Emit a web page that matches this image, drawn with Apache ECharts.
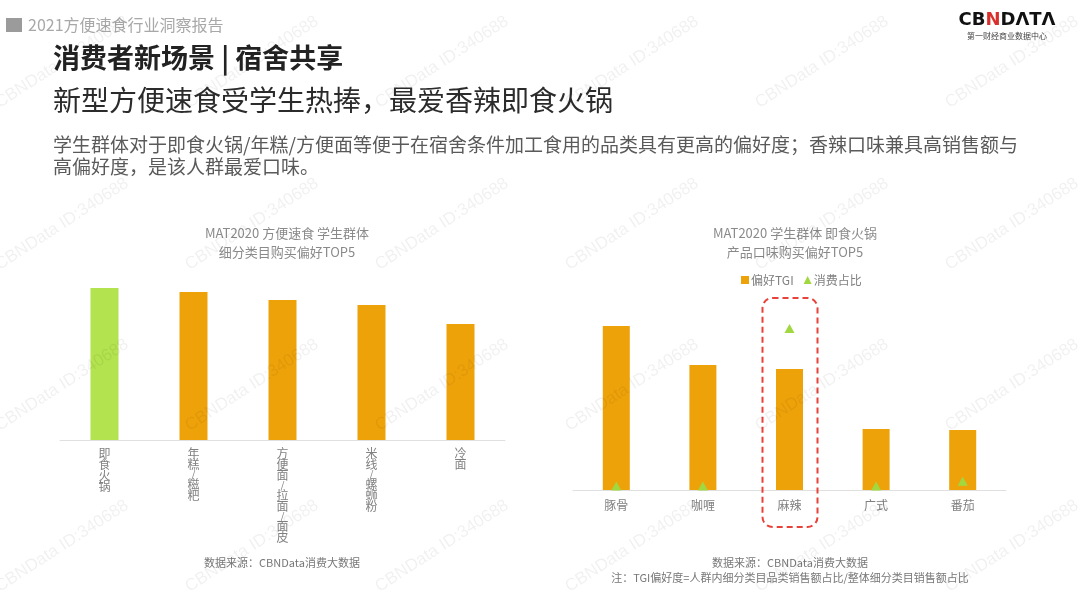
<!DOCTYPE html>
<html>
<head>
<meta charset="utf-8">
<script src="https://cdn.jsdelivr.net/npm/echarts@6/dist/echarts.min.js"></script>
<style>
	html, body { margin: 0; padding: 0; background: #fff; }
	#main { width: 1080px; height: 592px; }
</style>
</head>
<body>
<div id="main"></div>
<script>
// 左图：细分类目购买偏好TOP5
const catLeft = ['即食火锅', '年糕/糍粑', '方便面/拉面/面皮', '米线/螺蛳粉', '冷面']
const prefLeft = [152, 148, 140, 135, 116]

// 右图：即食火锅 产品口味购买偏好TOP5
const catRight = ['豚骨', '咖喱', '麻辣', '广式', '番茄']
const tgiRight = [164, 125, 121, 61, 60]
const shareRight = [1.3, 1.3, 51, 1.3, 2.8]

const ORANGE = '#EEA20A'
const GREEN = '#B3E34E'
const TRI = '#A2D83F'
const FONT = '"Noto Sans CJK SC", "Noto Sans", sans-serif'

const chart = echarts.init(document.getElementById('main'))

// 水印
const marks = []
const wmX = [62, 252, 442, 632, 822, 1012]
const wmY = [62, 224, 385, 546]
wmY.forEach(y => {
	wmX.forEach(x => {
		marks.push({
			type: 'text',
			x: x,
			y: y,
			rotation: Math.PI * 33 / 180,
			z: 100,
			silent: true,
			style: {
				text: 'CBNData ID:340688',
				fontSize: 17,
				fontFamily: '"Liberation Sans", sans-serif',
				fill: 'rgba(0,0,0,0.06)',
				align: 'center',
				verticalAlign: 'middle'
			}
		})
	})
})

// 竖排标签，斜杠行更矮
function vertical(v) {
	return v.split('').map(c => (c === '/' ? '{s|/}' : c)).join('\n')
}

chart.setOption({
	backgroundColor: '#fff',
	textStyle: { fontFamily: FONT },
	title: [
		{
			text: 'MAT2020 方便速食 学生群体\n细分类目购买偏好TOP5',
			left: 282,
			top: 219,
			textAlign: 'center',
			textStyle: { fontSize: 13, fontWeight: 'normal', color: '#8a8a8a', lineHeight: 19, fontFamily: FONT }
		},
		{
			text: 'MAT2020 学生群体 即食火锅\n产品口味购买偏好TOP5',
			left: 790,
			top: 219,
			textAlign: 'center',
			textStyle: { fontSize: 13, fontWeight: 'normal', color: '#8a8a8a', lineHeight: 19, fontFamily: FONT }
		}
	],
	legend: {
		left: 736,
		top: 269,
		itemWidth: 8,
		itemHeight: 8,
		itemGap: 10,
		textStyle: { fontSize: 12, color: '#808080', padding: [0, 0, 0, -3] },
		data: [
			{ name: '偏好TGI', icon: 'rect' },
			{ name: '消费占比', icon: 'triangle' }
		]
	},
	grid: [
		{ left: 60, right: 575, top: 250, bottom: 152 },
		{ left: 573, right: 74, top: 300, bottom: 102 }
	],
	xAxis: [
		{
			type: 'category',
			gridIndex: 0,
			data: catLeft,
			axisLine: { lineStyle: { color: '#e0e0e0', width: 1 } },
			axisTick: { show: false },
			axisLabel: {
				interval: 0,
				margin: 8,
				fontSize: 12,
				lineHeight: 11,
				color: '#808080',
				verticalAlign: 'top',
				formatter: vertical,
				rich: { s: { fontSize: 10, lineHeight: 9, color: '#808080' } }
			}
		},
		{
			type: 'category',
			gridIndex: 1,
			data: catRight,
			axisLine: { lineStyle: { color: '#e0e0e0', width: 1 } },
			axisTick: { show: false },
			axisLabel: { interval: 0, margin: 9, fontSize: 12, color: '#808080' }
		}
	],
	yAxis: [
		{ type: 'value', gridIndex: 0, min: 0, max: 190, show: false },
		{ type: 'value', gridIndex: 1, min: 0, max: 190, show: false },
		{ type: 'value', gridIndex: 1, min: 0, max: 60, show: false }
	],
	series: [
		{
			name: '偏好',
			type: 'bar',
			xAxisIndex: 0,
			yAxisIndex: 0,
			barWidth: 28,
			itemStyle: {
				color: p => (p.dataIndex === 0 ? GREEN : ORANGE)
			},
			data: prefLeft
		},
		{
			name: '偏好TGI',
			type: 'bar',
			xAxisIndex: 1,
			yAxisIndex: 1,
			barWidth: 27,
			itemStyle: { color: ORANGE },
			data: tgiRight
		},
		{
			name: '消费占比',
			type: 'scatter',
			xAxisIndex: 1,
			yAxisIndex: 2,
			symbol: 'triangle',
			symbolSize: [10, 9],
			itemStyle: { color: TRI, opacity: 1 },
			z: 5,
			data: shareRight
		}
	],
	graphic: [
		{ type: 'rect', shape: { x: 6, y: 18, width: 16, height: 14 }, style: { fill: '#9b9b9b' } },
		{
			type: 'text', x: 28, y: 25,
			style: { text: '2021方便速食行业洞察报告', fontSize: 16, fill: '#a8a8a8', verticalAlign: 'middle', fontFamily: FONT }
		},
		{
			type: 'text', x: 53, y: 58,
			style: { text: '消费者新场景 | 宿舍共享', fontSize: 27, fontWeight: 'bold', fill: '#222', verticalAlign: 'middle', fontFamily: FONT }
		},
		{
			type: 'text', x: 53, y: 100,
			style: { text: '新型方便速食受学生热捧，最爱香辣即食火锅', fontSize: 28, fill: '#2b2b2b', verticalAlign: 'middle', fontFamily: FONT }
		},
		{
			type: 'text', x: 53, y: 156,
			style: {
				text: '学生群体对于即食火锅/年糕/方便面等便于在宿舍条件加工食用的品类具有更高的偏好度；香辣口味兼具高销售额与\n高偏好度，是该人群最爱口味。',
				fontSize: 19, lineHeight: 22, fill: '#5a5a5a', verticalAlign: 'middle', fontFamily: FONT
			}
		},
		{
			type: 'text', x: 1007, y: 20,
			style: {
				text: 'CB{n|N}DΛTΛ',
				rich: { n: { fill: '#d9302b', fontSize: 18, fontWeight: 'bold', fontFamily: '"DejaVu Sans", sans-serif' } },
				fontSize: 18, fontWeight: 'bold', fill: '#111', align: 'center', verticalAlign: 'middle',
				fontFamily: '"DejaVu Sans", sans-serif'
			}
		},
		{
			type: 'text', x: 1007, y: 36,
			style: { text: '第一财经商业数据中心', fontSize: 8, fill: '#444', align: 'center', verticalAlign: 'middle', fontFamily: FONT }
		},
		{
			type: 'text', x: 282, y: 563,
			style: { text: '数据来源：CBNData消费大数据', fontSize: 11, fill: '#777', align: 'center', verticalAlign: 'middle', fontFamily: FONT }
		},
		{
			type: 'text', x: 790, y: 570,
			style: {
				text: '数据来源：CBNData消费大数据\n注：TGI偏好度=人群内细分类目品类销售额占比/整体细分类目销售额占比',
				fontSize: 11, lineHeight: 15, fill: '#777', align: 'center', verticalAlign: 'middle', fontFamily: FONT
			}
		}
	].concat(marks)
})

// 麻辣 的红色虚线框
const cx = chart.convertToPixel({ xAxisIndex: 1 }, '麻辣')
chart.setOption({
	graphic: {
		id: 'hl',
		type: 'rect',
		shape: { x: cx - 27, y: 298, width: 55, height: 229, r: 10 },
		style: { fill: 'none', stroke: '#E8433A', lineWidth: 2, lineDash: [6, 4] },
		z: 10
	}
})
</script>
</body>
</html>
